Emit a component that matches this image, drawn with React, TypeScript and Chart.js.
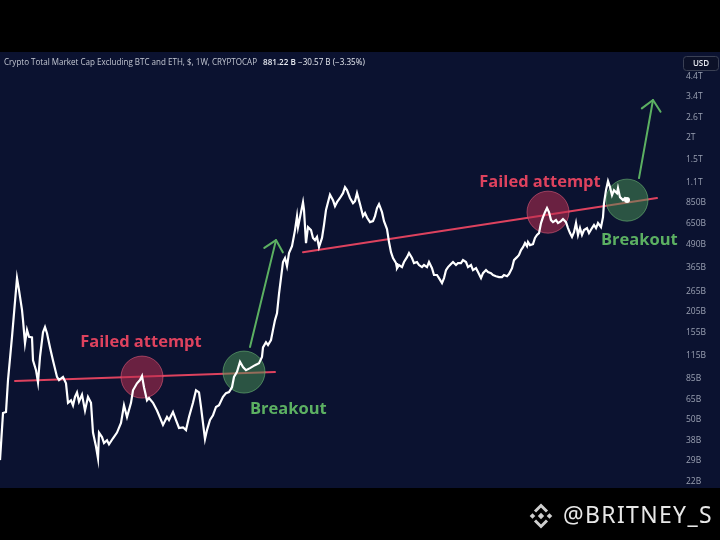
import React, { useEffect, useRef } from "react";
import { Chart, registerables } from "chart.js";

Chart.register(...registerables);

// ---- data (week index, market cap in billions USD) ----
const weeks: number[] = [
  0, 1.5, 3, 4, 6, 7, 8.5, 9.5, 11, 11.5,
  12.5, 13.5, 14.5, 16, 16.5, 18, 19, 20, 21.5, 22.5,
  23.5, 25, 26.5, 28.5, 29.5, 31.5, 33, 34, 35.5, 36.5,
  37.5, 38.5, 39.5, 41, 42.5, 44, 45.5, 46.5, 48, 49,
  49.5, 51, 52, 53.5, 54.5, 56.5, 58.5, 60.5, 62, 63.5,
  65.5, 66.5, 68.5, 70, 71, 72, 73.5, 74.5, 76.5, 78.5,
  79.5, 81.5, 83.5, 84.5, 86.5, 88, 89.5, 91.5, 93, 94.5,
  96.5, 98, 99.5, 100.5, 101.5, 102.5, 103.5, 105, 106.5, 108,
  109.5, 111.5, 113, 114.5, 116, 117, 118.5, 120, 121.5, 123,
  125, 127.5, 129.5, 131, 131.5, 133, 134, 135.5, 136.5, 137.5,
  138.5, 139.5, 141.5, 142.5, 143.5, 144.5, 146, 147.5, 148.5, 149,
  150.5, 151.5, 152, 153, 154, 155.5, 156.5, 157.5, 158.5, 159.5,
  161, 162, 163, 164, 165, 166.5, 167.5, 168.5, 170, 171.5,
  172.5, 173.5, 175, 176.5, 177.5, 178.5, 180, 181.5, 182.5, 183.5,
  185, 186.5, 187.5, 188.5, 189.5, 191, 192, 193.5, 194.5, 195.5,
  196.5, 198, 198.5, 199.5, 201, 202, 203.5, 204.5, 206, 207,
  208.5, 209.5, 211, 212, 213.5, 214.5, 216, 217, 218.5, 219.5,
  221, 222, 223, 224, 225.5, 226.5, 228, 229, 230.5, 231.5,
  233, 234, 235.5, 236.5, 238, 239, 240.5, 241.5, 243, 244,
  245.5, 246.5, 248, 249.5, 251, 252, 253.5, 254.5, 256, 257,
  258.5, 259.5, 260.5, 261.5, 262.5, 263.5, 264, 265, 266.5, 267.5,
  268.5, 269.5, 270.5, 271.5, 272.5, 273.5, 274.5, 275.5, 276.5, 278,
  279, 280.5, 281.5, 283, 284, 285, 286, 287, 288, 289,
  290, 291, 292, 293.5, 294.5, 296, 297, 298, 299, 300.5,
  301.5, 302, 303, 304, 305, 306, 307, 308.5, 309, 310,
  311.5, 312.5, 313.5,
];

const capB: number[] = [
  29.3, 54.2, 55, 83.5, 147, 200, 317, 271, 209, 183,
  135, 161, 147, 146, 108, 95, 81, 113, 156, 167,
  154, 128, 108, 87, 83.5, 87, 80, 62, 64, 60,
  67, 71, 63, 69, 56, 67, 62, 42, 35, 30,
  42, 39.6, 36.6, 38, 36, 39, 42, 47.6, 60, 51.5,
  62, 73, 80, 83.5, 88, 76, 64, 66, 62, 56,
  52.7, 46.4, 51.5, 49.5, 55, 49.5, 44.6, 45, 43.4, 51.5,
  62, 73, 71, 58.7, 47.6, 38.6, 43.4, 49.5, 52.7, 58.7,
  60, 67, 70.4, 71.4, 76, 87, 93, 106, 99, 95,
  97.6, 101.5, 104, 113, 128, 137, 132, 141, 161, 183,
  200, 258, 391, 412, 371, 440, 481, 594, 711, 617,
  751, 856, 774, 501, 617, 594, 536, 521, 543, 475,
  536, 635, 774, 856, 944, 879, 812, 856, 904, 963,
  1042, 1002, 904, 845, 868, 963, 834, 713, 742, 700,
  659, 668, 713, 792, 834, 751, 668, 602, 508, 445,
  412, 386, 361, 376, 366, 391, 417, 440, 412, 386,
  391, 376, 366, 376, 366, 391, 361, 330, 330, 317,
  297, 317, 352, 366, 381, 391, 376, 386, 386, 401,
  391, 366, 376, 352, 361, 343, 317, 338, 352, 343,
  338, 330, 325, 321, 321, 330, 325, 334, 361, 401,
  417, 429, 457, 475, 501, 481, 508, 488, 494, 536,
  557, 571, 651, 704, 751, 792, 751, 677, 659, 677,
  651, 668, 686, 659, 610, 571, 543, 578, 651, 557,
  610, 557, 594, 610, 571, 610, 635, 610, 651, 617,
  704, 845, 1002, 1127, 1042, 938, 1002, 963, 1029, 914,
  879, 903, 881.22,
];

const tickValues: number[] = [22, 29, 38, 50, 65, 85, 115, 155, 205, 265, 365, 490, 650, 850, 1100, 1500, 2000, 2600, 3400, 4400];
const tickLabels: string[] = ["22B", "29B", "38B", "50B", "65B", "85B", "115B", "155B", "205B", "265B", "365B", "490B", "650B", "850B", "1.1T", "1.5T", "2T", "2.6T", "3.4T", "4.4T"];

const titleText = "Crypto Total Market Cap Excluding BTC and ETH, $, 1W, CRYPTOCAP";
const lastText = "881.22 B";
const changeText = "\u221230.57 B (\u22123.35%)";
const watermarkText = "@BRITNEY_S";

// annotations in data units: [week, billions]
const trendLines: [number, number][][] = [
  [[7.5, 82.4], [137.5, 92.7]],
  [[151.5, 445], [328.5, 903]],
];
const failedCircles: [number, number][] = [[71, 86.8], [274, 751]];
const breakoutCircles: [number, number][] = [[122, 92.7], [313.5, 879]];
const arrowLines: [number, number][][] = [
  [[125, 128.5], [138, 521]],
  [[319.5, 1173], [326.5, 3260]],
];
const failedLabels: [number, number][] = [[70.5, 128.5], [270, 1042]];
const breakoutLabels: [number, number][] = [[125, 53.5], [300.5, 488]];

const NAVY = "rgb(11,18,48)";
const RED = "rgb(222,66,94)";
const GREEN = "rgb(92,176,98)";

export default function App() {
  const ref = useRef<HTMLCanvasElement | null>(null);

  useEffect(() => {
    if (!ref.current) return;
    const last = weeks.length - 1;

    const deco = {
      id: "deco",
      beforeDraw(chart: any) {
        const { ctx, chartArea, width, height } = chart;
        ctx.save();
        ctx.fillStyle = "#000";
        ctx.fillRect(0, 0, width, height);
        ctx.fillStyle = NAVY;
        ctx.fillRect(0, chartArea.top, width, chartArea.bottom - chartArea.top);
        ctx.restore();
      },
      beforeDatasetsDraw(chart: any) {
        const { ctx, scales } = chart;
        const X = (v: number) => scales.x.getPixelForValue(v);
        const Y = (v: number) => scales.y.getPixelForValue(v);
        ctx.save();
        ctx.strokeStyle = RED;
        ctx.lineWidth = 2;
        ctx.lineCap = "round";
        trendLines.forEach(([a, b]) => {
          ctx.beginPath();
          ctx.moveTo(X(a[0]), Y(a[1]));
          ctx.lineTo(X(b[0]), Y(b[1]));
          ctx.stroke();
        });
        const circle = (p: [number, number], fill: string, edge: string) => {
          ctx.beginPath();
          ctx.arc(X(p[0]), Y(p[1]), 21, 0, Math.PI * 2);
          ctx.fillStyle = fill;
          ctx.fill();
          ctx.lineWidth = 1;
          ctx.strokeStyle = edge;
          ctx.stroke();
        };
        failedCircles.forEach((p) => circle(p, "rgba(185,45,80,0.55)", "rgba(220,90,120,0.6)"));
        breakoutCircles.forEach((p) => circle(p, "rgba(75,150,85,0.5)", "rgba(105,180,115,0.6)"));
        ctx.restore();
      },
      afterDatasetsDraw(chart: any) {
        const { ctx, scales } = chart;
        const X = (v: number) => scales.x.getPixelForValue(v);
        const Y = (v: number) => scales.y.getPixelForValue(v);
        ctx.save();
        ctx.strokeStyle = GREEN;
        ctx.lineWidth = 2;
        ctx.lineCap = "round";
        ctx.lineJoin = "round";
        arrowLines.forEach(([a, b]) => {
          const x1 = X(a[0]), y1 = Y(a[1]), x2 = X(b[0]), y2 = Y(b[1]);
          ctx.beginPath();
          ctx.moveTo(x1, y1);
          ctx.lineTo(x2, y2);
          ctx.stroke();
          const ang = Math.atan2(y1 - y2, x1 - x2);
          const L = 14, h = Math.PI / 4.2;
          ctx.beginPath();
          ctx.moveTo(x2 + L * Math.cos(ang - h), y2 + L * Math.sin(ang - h));
          ctx.lineTo(x2, y2);
          ctx.lineTo(x2 + L * Math.cos(ang + h), y2 + L * Math.sin(ang + h));
          ctx.stroke();
        });
        ctx.font = "bold 16.5px 'Open Sans', sans-serif";
        ctx.textBaseline = "alphabetic";
        ctx.fillStyle = RED;
        ctx.textAlign = "center";
        failedLabels.forEach((p) => ctx.fillText("Failed attempt", X(p[0]), Y(p[1])));
        ctx.fillStyle = GREEN;
        ctx.textAlign = "left";
        breakoutLabels.forEach((p) => ctx.fillText("Breakout", X(p[0]), Y(p[1])));
        ctx.restore();
      },
      afterDraw(chart: any) {
        const { ctx, chartArea } = chart;
        ctx.save();
        // header
        ctx.textBaseline = "middle";
        ctx.textAlign = "left";
        ctx.font = "8.1px 'Open Sans', sans-serif";
        ctx.fillStyle = "#c3c7d2";
        const ty = chartArea.top + 10.5;
        ctx.fillText(titleText, 4, ty, 253);
        ctx.fillStyle = "#e4e7ee";
        ctx.font = "600 8.1px 'Open Sans', sans-serif";
        ctx.fillText(lastText, 263, ty);
        ctx.font = "8.1px 'Open Sans', sans-serif";
        ctx.fillText(changeText, 298, ty, 69);
        // USD box
        ctx.beginPath();
        ctx.roundRect(683.5, chartArea.top + 4.5, 35, 14, 3);
        ctx.fillStyle = "#0c1128";
        ctx.fill();
        ctx.strokeStyle = "#3a4054";
        ctx.lineWidth = 1;
        ctx.stroke();
        ctx.fillStyle = "#e8eaf0";
        ctx.textAlign = "center";
        ctx.font = "600 8px 'Open Sans', sans-serif";
        ctx.fillText("USD", 701, chartArea.top + 11.5);
        // watermark
        const by = chartArea.bottom + 28;
        ctx.fillStyle = "#e8e8e8";
        ctx.textAlign = "left";
        ctx.textBaseline = "middle";
        ctx.font = "23px 'Noto Sans', sans-serif";
        const w = ctx.measureText(watermarkText).width;
        (ctx as any).letterSpacing = Math.max(0, (149 - w) / 9) + "px";
        ctx.fillText(watermarkText, 563, by, 150);
        (ctx as any).letterSpacing = "0px";
        // logo
        const cx = 541, cy = by;
        ctx.fillStyle = "#cfcfcf";
        const dia = (x: number, y: number, r: number) => {
          ctx.beginPath();
          ctx.moveTo(x, y - r);
          ctx.lineTo(x + r, y);
          ctx.lineTo(x, y + r);
          ctx.lineTo(x - r, y);
          ctx.closePath();
          ctx.fill();
        };
        dia(cx, cy, 3.2);
        dia(cx - 8.5, cy, 2.8);
        dia(cx + 8.5, cy, 2.8);
        ctx.strokeStyle = "#cfcfcf";
        ctx.lineWidth = 3;
        ctx.lineJoin = "miter";
        ctx.beginPath();
        ctx.moveTo(cx - 6, cy - 4.5);
        ctx.lineTo(cx, cy - 10.5);
        ctx.lineTo(cx + 6, cy - 4.5);
        ctx.stroke();
        ctx.beginPath();
        ctx.moveTo(cx - 6, cy + 4.5);
        ctx.lineTo(cx, cy + 10.5);
        ctx.lineTo(cx + 6, cy + 4.5);
        ctx.stroke();
        ctx.restore();
      },
    };

    const chart = new Chart(ref.current, {
      type: "line",
      data: {
        datasets: [
          {
            data: weeks.map((w, i) => ({ x: w, y: capB[i] })),
            borderColor: "#ffffff",
            borderWidth: 2.2,
            tension: 0,
            pointRadius: (c: any) => (c.dataIndex === last ? 3 : 0),
            pointBackgroundColor: "#ffffff",
            pointBorderWidth: 0,
            fill: false,
          },
        ],
      },
      options: {
        animation: false,
        responsive: false,
        devicePixelRatio: 1,
        layout: { autoPadding: false, padding: { top: 52, bottom: 52, left: 0, right: 0 } },
        plugins: { legend: { display: false }, tooltip: { enabled: false } },
        scales: {
          x: { type: "linear", min: 0, max: 335, display: false },
          y: {
            type: "logarithmic",
            position: "right",
            min: 20.34,
            max: 6105,
            grid: { display: false, drawTicks: false },
            border: { display: false },
            afterBuildTicks: (s: any) => {
              s.ticks = tickValues.map((v) => ({ value: v }));
            },
            afterFit: (s: any) => {
              s.width = 50;
            },
            ticks: {
              autoSkip: false,
              padding: 16,
              color: "#9aa0b2",
              font: { size: 8.5, family: "'Open Sans', sans-serif" },
              callback: (_v: any, i: number) => tickLabels[i],
            },
          },
        },
      },
      plugins: [deco],
    } as any);

    return () => chart.destroy();
  }, []);

  return (
    <div style={{ position: "fixed", left: 0, top: 0, width: 720, height: 540, background: "#000" }}>
      <canvas ref={ref} width={720} height={540} style={{ display: "block" }} />
    </div>
  );
}
